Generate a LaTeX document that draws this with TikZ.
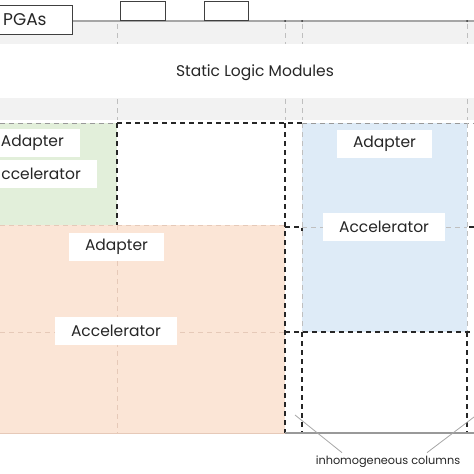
\documentclass[tikz,border=0pt]{standalone}
\usepackage{fontspec}
\setmainfont{Poppins}
\usetikzlibrary{calc}

\definecolor{bandgray}{HTML}{F2F2F2}
\definecolor{greenfill}{HTML}{E2EFDA}
\definecolor{bluefill}{HTML}{DEEBF7}
\definecolor{orangefill}{HTML}{FBE5D6}
\definecolor{orangeline}{HTML}{E6C9B8}
\definecolor{boxline}{HTML}{404040}

\begin{document}
\begin{tikzpicture}[
    x=1pt, y=-1pt,
    every node/.style={font=\fontsize{15.5}{18}\selectfont, text=black!85},
    modbox/.style={fill=white, minimum height=28pt, inner xsep=16pt, inner ysep=0pt},
    chipbox/.style={draw=boxline, line width=1pt, fill=white},
    blackdash/.style={draw=black!85, line width=1.4pt, dash pattern=on 5pt off 4pt},
    greydash/.style={draw=#1, line width=0.9pt, dash pattern=on 5pt off 4pt},
    greydash/.default={black!25},
    pointer/.style={draw=gray!70, line width=0.8pt},
  ]
    \useasboundingbox (0,0) rectangle (474,474);

    % Columns (x) and rows (y) of the fabric, in pixels
    \def\cA{117}
    \def\cB{285}
    \def\cC{302}
    \def\cD{467}
    \def\rTop{123}
    \def\rA{225}
    \def\rB{332}
    \def\rBot{433}

    % Grey bands above and below the static logic
    \fill[bandgray] (0,21) rectangle (474,44);
    \fill[bandgray] (0,98) rectangle (474,120);
    \foreach \c in {\cA,\cB,\cC,\cD} {
      \draw[greydash] (\c,24) -- (\c,44);
      \draw[greydash] (\c,99) -- (\c,120);
    }
    \draw[gray!70, line width=1.2pt] (72,21) -- (474,21);
    \foreach \c in {\cB,\cC,\cD}
      \fill[black!80] (\c,21) circle (1pt);

    % FPGA boxes on top
    \draw[chipbox] (-5,5) rectangle (72,34);
    \node[anchor=west, inner sep=0pt, font=\fontsize{17}{19}\selectfont] (fpga) at (3,20) {PGAs};
    \draw[chipbox] (120,1) rectangle (165,20.5);
    \draw[chipbox] (204,1) rectangle (248,20.5);

    \node (static) at (255,73) {Static Logic Modules};

    % Reconfigurable regions
    \fill[greenfill] (0,\rTop) rectangle (\cA,\rA);
    \fill[orangefill] (0,\rA) rectangle (\cB,\rBot);
    \fill[bluefill] (\cC,\rTop) rectangle (\cD,\rB);
    \draw[orangeline, line width=1pt] (0,\rBot) -- (\cB,\rBot);

    % Light grid lines
    \draw[greydash=black!40] (0,\rTop) -- (\cA,\rTop);
    \draw[greydash=black!40] (\cC,\rTop) -- (474,\rTop);
    \draw[greydash] (\cC,\rTop) -- (\cC,\rB);
    \draw[greydash] (\cD,\rTop) -- (\cD,\rB);
    \draw[greydash] (\cC,227) -- (\cD,227);
    \draw[greydash=orangeline] (0,\rA) -- (\cB,\rA);
    \draw[greydash=orangeline] (\cA,\rA) -- (\cA,\rBot);
    \draw[greydash=orangeline] (0,\rB) -- (\cB,\rB);

    % Region borders
    \draw[blackdash] (\cA,\rTop) -- (\cC,\rTop);
    \draw[blackdash] (\cA,\rTop) -- (\cA,\rA);
    \draw[blackdash] (\cB,\rTop) -- (\cB,\rBot);
    \draw[blackdash] (\cB,227) -- (\cC,227) -- (\cC,231);
    \draw[blackdash] (\cB,\rB) -- (474,\rB);
    \draw[blackdash] (\cC,\rB) -- (\cC,\rBot);
    \draw[blackdash] (\cD,\rB) -- (\cD,\rBot);
    \draw[blackdash] (469,227) -- (474,227);
    \draw[gray!80, line width=1.8pt] (\cB,\rBot) -- (474,\rBot);

    % Module labels
    \node[modbox, anchor=east] (adaptG) at (80,143) {Adapter};
    \node[modbox, anchor=east] (accelG) at (97,174) {ccelerator};
    \node[modbox] (adaptO) at (116.5,246.5) {Adapter};
    \node[modbox] (accelO) at (116,331) {Accelerator};
    \node[modbox] (adaptB) at (384.5,143.5) {Adapter};
    \node[modbox] (accelB) at (384,227) {Accelerator};

    % Inhomogeneous columns
    \node[font=\fontsize{11.3}{13}\selectfont] (cols) at (388,462) {inhomogeneous columns};
    \coordinate (colL) at (295,415);
    \coordinate (colR) at (478,414);
    \draw[pointer] ([xshift=-46pt]cols.north) -- (colL);
    \draw[pointer] ([xshift=39pt]cols.north) -- (colR);
  \end{tikzpicture}
\end{document}
